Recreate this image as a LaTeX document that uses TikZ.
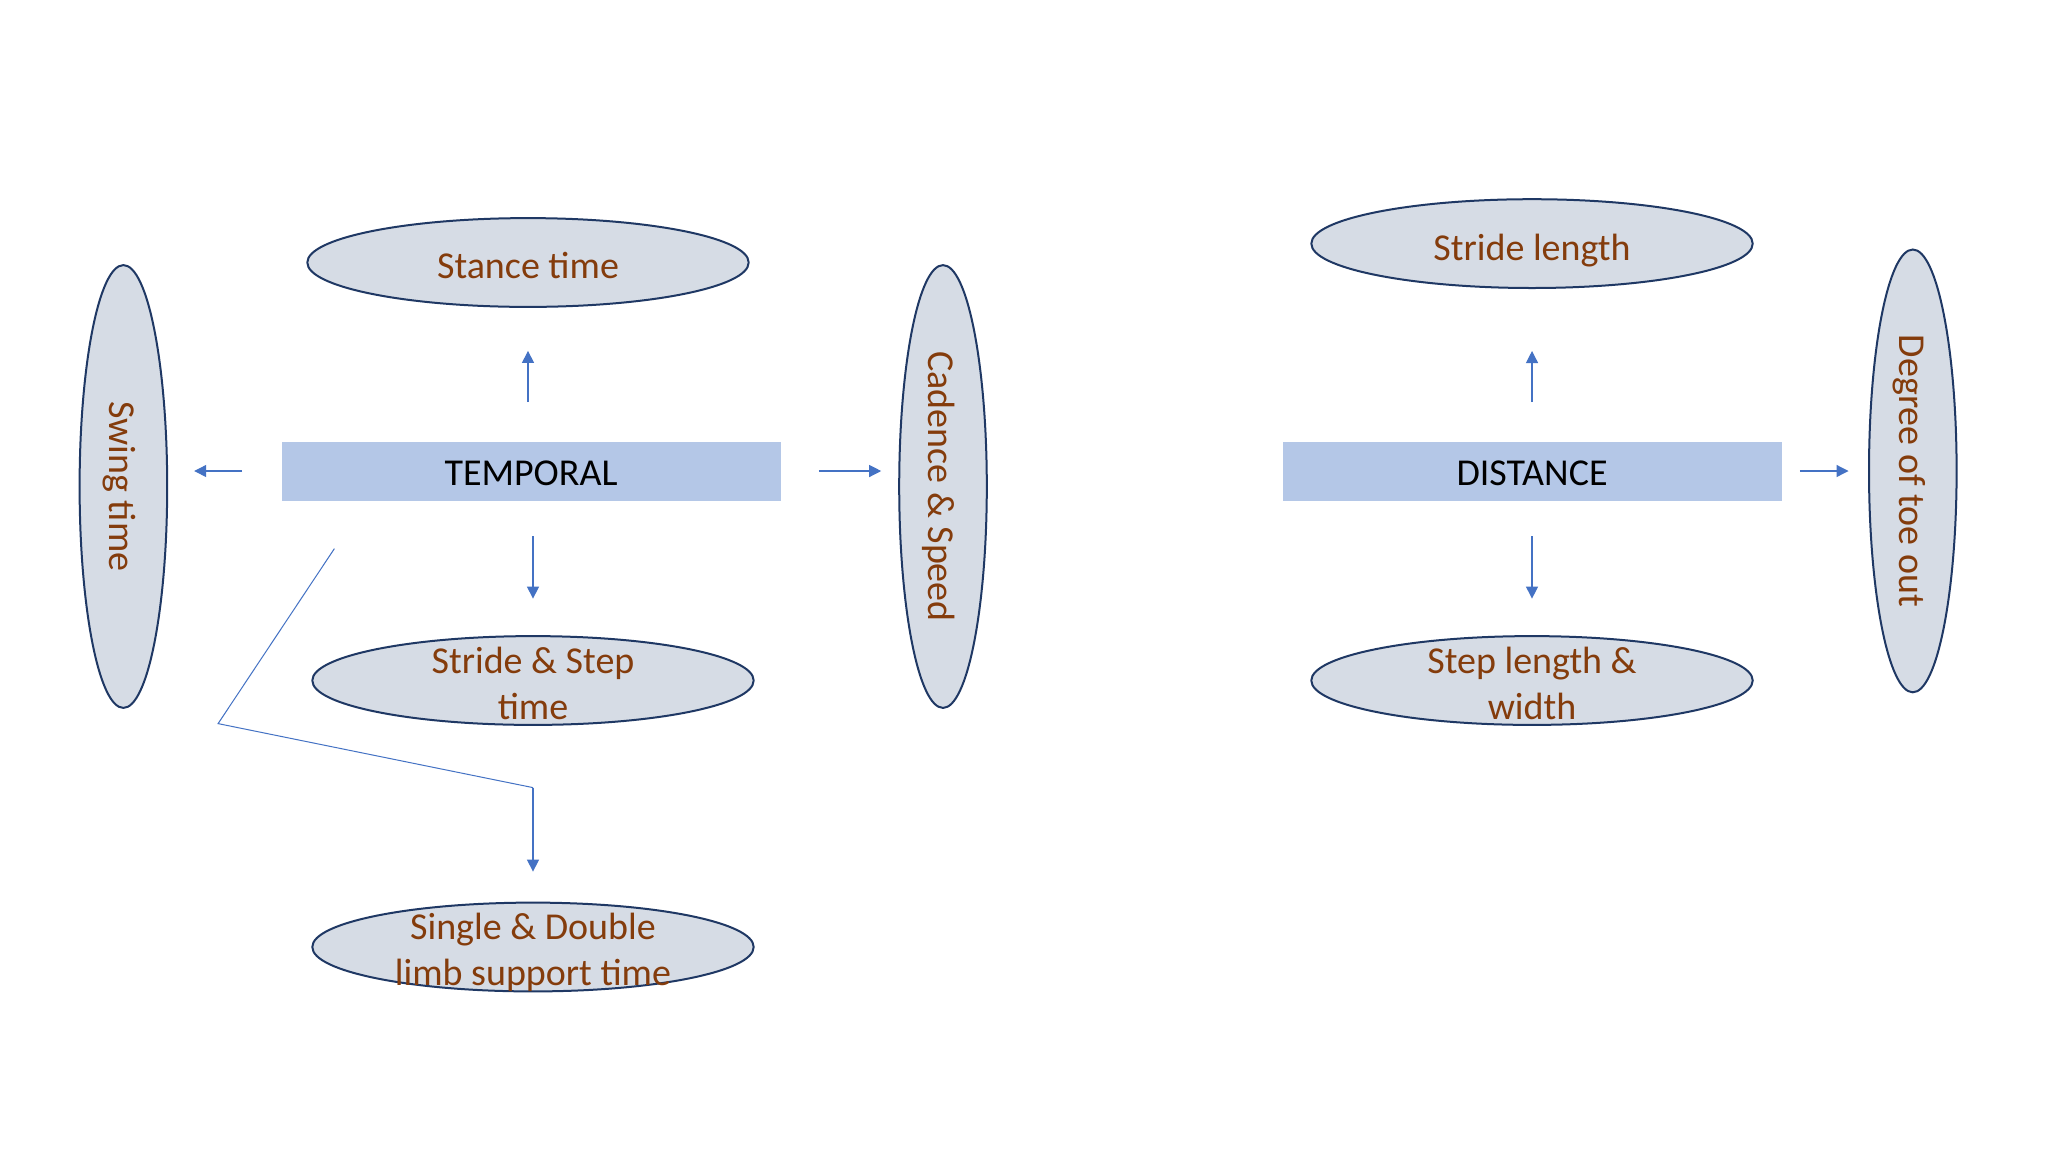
\documentclass[tikz,border=0pt]{standalone}
\usepackage{fontspec}
\setmainfont{Carlito}
\usetikzlibrary{shapes.geometric,arrows.meta}
\definecolor{ellfill}{HTML}{D6DCE5}
\definecolor{elldraw}{HTML}{1F3864}
\definecolor{txtbrown}{HTML}{843C0C}
\definecolor{boxfill}{HTML}{B4C7E7}
\definecolor{arrblue}{HTML}{4472C4}
\tikzset{
  hell/.style={ellipse, draw=elldraw, fill=ellfill, line width=1pt, inner sep=0pt,
    minimum width=220.7pt, minimum height=44.4pt},
  vell/.style={ellipse, draw=elldraw, fill=ellfill, line width=1pt, inner sep=0pt,
    minimum width=43.8pt, minimum height=221.4pt},
  mainbox/.style={rectangle, fill=boxfill, draw=none, inner sep=0pt,
    minimum width=249.5pt, minimum height=29.5pt, text=black,
    text height=14.8pt, text depth=0pt,
    font=\fontsize{19}{23}\selectfont},
  lbl/.style={text=txtbrown, align=center, inner sep=0pt,
    font=\fontsize{19}{23}\selectfont},
  arr/.style={draw=arrblue, line width=0.6pt, -{Triangle[length=6pt,width=6pt]}},
  thinline/.style={draw=arrblue, line width=0.5pt}
}
\begin{document}
\begin{tikzpicture}[x=0.5pt,y=-0.5pt]
\useasboundingbox[fill=white] (0,0) rectangle (2048,1152);

% TEMPORAL group
\node[mainbox] (temporal) at (531,471) {TEMPORAL};
\node[hell] (stance) at (528,262.5) {};
\node[lbl] at ([yshift=-1.5pt]stance.center) {Stance time};
\node[hell] (stridestep) at (533,680.5) {};
\node[lbl] at ([yshift=-1.5pt]stridestep.center) {Stride \& Step\\time};
\node[hell] (single) at (533,947) {};
\node[lbl] at ([yshift=-2.5pt]single.center) {Single \& Double\\limb support time};
\node[vell] (swing) at (123.4,486.5) {};
\node[lbl, rotate=-90] at ([xshift=-2pt]swing.center) {Swing time};
\node[vell] (cadence) at (943,486.5) {};
\node[lbl, rotate=-90] at ([xshift=-2pt]cadence.center) {Cadence \& Speed};

% DISTANCE group
\node[mainbox] (distance) at (1532,471) {DISTANCE};
\node[hell] (stridelen) at (1532,243.6) {};
\node[lbl] at ([yshift=-3.3pt]stridelen.center) {Stride length};
\node[hell] (steplen) at (1532,680.5) {};
\node[lbl] at ([yshift=-1.5pt]steplen.center) {Step length \&\\width};
\node[vell] (toe) at (1912.8,470.9) {};
\node[lbl, rotate=-90] at ([xshift=-2pt]toe.center) {Degree of toe out};

% arrows TEMPORAL
\draw[arr, shorten <=19.5pt, shorten >=21.5pt] (temporal.north -| stance.south) -- (stance.south);
\draw[arr, shorten <=19.5pt, shorten >=13pt] (temporal.west) -- (temporal.west -| swing.east);
\draw[arr, shorten <=19pt, shorten >=8.5pt] (temporal.east) -- (temporal.east -| cadence.west);
\draw[arr, shorten <=17.75pt, shorten >=18.25pt] (temporal.south -| stridestep.north) -- (stridestep.north);

% bent connector
\coordinate (b0) at (334.4,548.6);
\coordinate (b1) at (218.1,723.6);
\coordinate (b2) at (533,787.6);
\draw[thinline] (b0) -- (b1) -- (b2);
\draw[arr, shorten >=15pt] (b2) -- (single.north);

% arrows DISTANCE
\draw[arr, shorten <=19.5pt, shorten >=31pt] (distance.north -| stridelen.south) -- (stridelen.south);
\draw[arr, shorten <=17.75pt, shorten >=18.25pt] (distance.south -| steplen.north) -- (steplen.north);
\draw[arr, shorten <=9pt, shorten >=9.75pt] (distance.east) -- (distance.east -| toe.west);
\end{tikzpicture}
\end{document}
